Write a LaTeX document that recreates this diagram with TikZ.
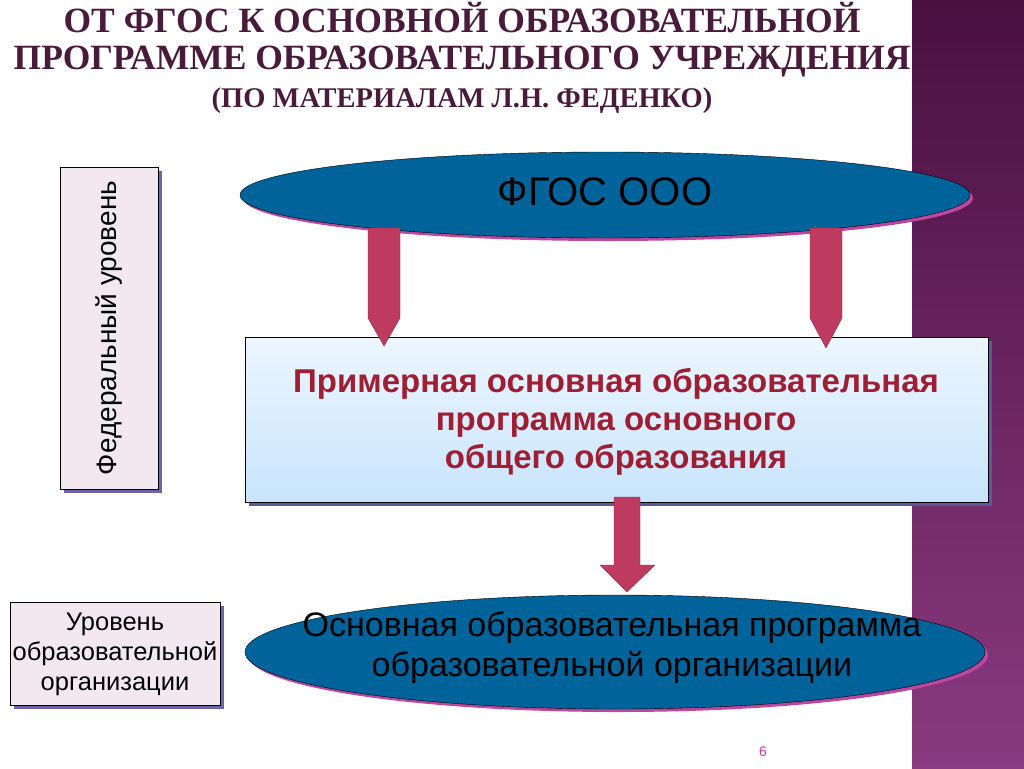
\documentclass[tikz,border=0pt]{standalone}
\usepackage{fontspec}
\setmainfont{Liberation Sans}
\newfontfamily\serifb{Liberation Serif}
\definecolor{ellb}{HTML}{00649A}
\definecolor{arr}{HTML}{BE3A5E}
\definecolor{stripA}{HTML}{4A1040}
\definecolor{stripB}{HTML}{8A3A80}
\definecolor{ttl}{HTML}{4A1A3A}
\definecolor{lbl}{HTML}{F3E8EF}
\begin{document}
\begin{tikzpicture}[x=1pt,y=-1pt,
  arrw/.style={fill=arr,draw=arr!80!black,line width=0.4pt}]
\useasboundingbox (0,0) rectangle (1024,768);
\fill[white] (0,0) rectangle (1024,768);
\shade[top color=stripA,bottom color=stripB] (912,0) rectangle (1024,768);
% title
\node[font=\serifb\bfseries\fontsize{35.5}{37}\selectfont,text=ttl,align=center] (t1) at (462,40) {ОТ ФГОС К ОСНОВНОЙ ОБРАЗОВАТЕЛЬНОЙ\\ПРОГРАММЕ ОБРАЗОВАТЕЛЬНОГО УЧРЕЖДЕНИЯ};
\node[font=\serifb\bfseries\fontsize{28.5}{30}\selectfont,text=ttl] (t2) at (462,101) {(ПО МАТЕРИАЛАМ Л.Н. ФЕДЕНКО)};
% top ellipse
\fill[color={rgb,255:red,190;green,70;blue,160}] (608,198) ellipse [x radius=365,y radius=43];
\draw[fill=ellb] (605,195) ellipse [x radius=365,y radius=43];
\node[font=\fontsize{40}{44}\selectfont] (f) at (605,192) {ФГОС ООО};
% box
\fill[color={rgb,255:red,90;green,90;blue,150}] (249,341) rectangle (992,506);
\shade[top color={rgb,255:red,236;green,246;blue,255},bottom color={rgb,255:red,200;green,228;blue,252},draw=black] (245,337) rectangle (988,502);
\node[font=\bfseries\fontsize{33}{38}\selectfont,text={rgb,255:red,160;green,30;blue,50},align=center] (p) at (616,422) {Примерная основная образовательная\\программа основного\\общего образования};
% arrows
\draw[arrw] (368,228) -- (400,228) -- (400,318) -- (384,346) -- (368,318) -- cycle;
\draw[arrw] (810,228) -- (842,228) -- (842,318) -- (826,348) -- (810,318) -- cycle;
% bottom arrow
\draw[arrw] (614,497) -- (640,497) -- (640,565) -- (655,565) -- (627,592) -- (600,565) -- (614,565) -- cycle;
% bottom ellipse
\fill[color={rgb,255:red,190;green,70;blue,160}] (618,655) ellipse [x radius=370,y radius=57];
\draw[fill=ellb] (615,652) ellipse [x radius=370,y radius=57];
\node[font=\fontsize{34}{40}\selectfont,align=center] (o) at (612,648) {Основная образовательная программа\\образовательной организации};
% left labels
\fill[color={rgb,255:red,110;green,100;blue,170}] (64,171) rectangle (162,493);
\draw[fill=lbl] (60,167) rectangle (158,489);
\node[rotate=90,font=\fontsize{28}{32}\selectfont] (fl) at (109,328) {Федеральный уровень};
\fill[color={rgb,255:red,110;green,100;blue,170}] (14,606) rectangle (224,709);
\draw[fill=lbl] (10,602) rectangle (220,705);
\node[align=center,font=\fontsize{25.5}{30}\selectfont] (ul) at (115,654) {Уровень\\образовательной\\организации};
\node[text={rgb,255:red,200;green,60;blue,160},font=\fontsize{14}{16}\selectfont] (n) at (763,752) {6};
\end{tikzpicture}
\end{document}
